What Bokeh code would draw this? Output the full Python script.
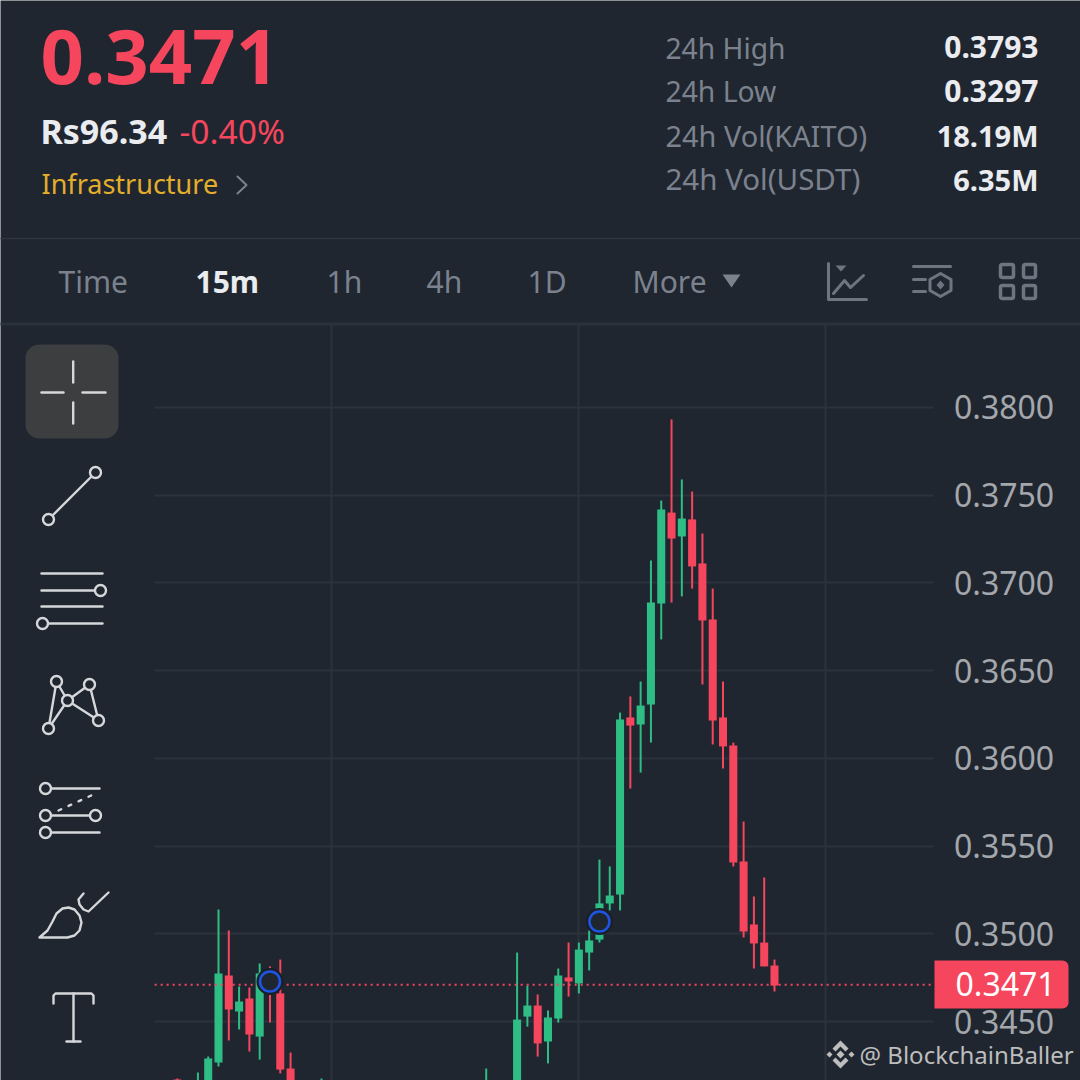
from bokeh.plotting import figure
from bokeh.models import Range1d, LinearAxis, FixedTicker, NumeralTickFormatter, Grid
from bokeh.core.properties import value
from bokeh.embed import file_html
from bokeh.resources import INLINE

# ---------- data ----------
slot  = [-4, -2, -1, 0, 1, 2, 3, 4, 5, 6, 7, 10, 26, 29, 30, 31, 32, 33, 34, 35, 36, 37, 38, 39,
         40, 41, 42, 43, 44, 45, 46, 47, 48, 49, 50, 51, 52, 53, 54]
open_ = [.3417, .3395, .3405, .34266, .34762, .34557, .34631, .34414, .34751, .34660, .34232, .3395, .3395, .3400, .34528, .34591, .34386, .34517, .34751, .34717, .34893, .34967, .35173, .35224,
         .36233, .36193, .36307, .36883, .37401, .37265, .37362, .37111, .36792, .36233, .36073, .35412, .35053, .34950, .34819]
high  = [.34175, .34209, .34300, .35138, .35019, .34699, .34694, .34831, .34814, .34853, .34323, .34175, .34232, .34893, .34705, .34654, .34563, .34802, .34950, .34950, .35019, .35423, .35384, .36261,
         .36353, .36438, .37128, .37470, .37932, .37590, .37521, .37282, .36968, .36438, .36090, .35640, .35213, .35321, .34853]
low   = [.3395, .3385, .3400, .34244, .34392, .34454, .34329, .34283, .34494, .34204, .3395, .3390, .3390, .3395, .34471, .34300, .34261, .34494, .34642, .34660, .34791, .34950, .35133, .35133,
         .35828, .35919, .36090, .36678, .36888, .36923, .36968, .36421, .36079, .35942, .35384, .34979, .34802, .34814, .34671]
close = [.3400, .3415, .34289, .34774, .34568, .34614, .34426, .34774, .34705, .34226, .3400, .3410, .3410, .34511, .34591, .34375, .34523, .34762, .34728, .34910, .34962, .35173, .35218, .36221,
         .36187, .36301, .36888, .37419, .37253, .37367, .37094, .36786, .36216, .36068, .35406, .35013, .34945, .34814, .34705]
price_ticks = [.345, .350, .355, .360, .365, .370, .375, .380]
time_ticks = [11, 35, 59]
last_price = 0.3471
marker_slot = [5, 37]
marker_price = [.34728, .35070]
stats = [("24h High", "0.3793"), ("24h Low", "0.3297"), ("24h Vol(KAITO)", "18.19M"), ("24h Vol(USDT)", "6.35M")]
tabs = ["Time", "15m", "1h", "4h", "1D", "More"]

# ---------- style ----------
BG, RED, GREEN = "#1F2630", "#F6465D", "#2EBD85"
GRID, ICON, GREY = "#2B323B", "#D5D7DA", "#7C828D"
FONT = value("Noto Sans")

p = figure(width=1080, height=1080, x_range=Range1d(-21.173, 83.72), y_range=Range1d(.341637, .403200),
           x_axis_type=None, y_axis_type=None, toolbar_location=None, output_backend="svg",
           min_border=0, background_fill_color=BG, border_fill_color=BG, outline_line_color=None)
p.grid.visible = False
p.extra_x_ranges["px"] = Range1d(0, 1080)
p.extra_y_ranges["px"] = Range1d(1080, 0)
PX = dict(x_range_name="px", y_range_name="px")

# grid + axis
p.add_layout(Grid(dimension=1, ticker=FixedTicker(ticks=price_ticks), grid_line_color=GRID, grid_line_width=2,
                  cross_bounds=(-6.2, 69.4)), "center")
p.add_layout(Grid(dimension=0, ticker=FixedTicker(ticks=time_ticks), grid_line_color=GRID, grid_line_width=2,
                  cross_bounds=(.34164, .38467)), "center")
axis = LinearAxis(ticker=FixedTicker(ticks=price_ticks), formatter=NumeralTickFormatter(format="0.0000"),
                  fixed_location=69.4, axis_line_color=None, major_tick_line_color=None, minor_tick_line_color=None,
                  major_label_text_color="#A4A7AB", major_label_text_font="Noto Sans",
                  major_label_text_font_size="32px", major_label_standoff=15)
p.add_layout(axis, "right")

# candles
colors = [GREEN if c >= o else RED for o, c in zip(open_, close)]
p.segment(slot, high, slot, low, line_color=colors, line_width=2)
p.vbar(x=slot, top=[max(o, c) for o, c in zip(open_, close)], bottom=[min(o, c) for o, c in zip(open_, close)],
       width=0.78, fill_color=colors, line_color=None)
p.segment([-6.2], [last_price], [69.5], [last_price], line_color=RED, line_width=2, line_dash="2 4")
p.scatter(marker_slot, marker_price, size=27, fill_color="#1A1E27", line_color=None)
p.scatter(marker_slot, marker_price, size=20, fill_color=BG, line_color="#1F54E0", line_width=2.6)

# helpers for interface chrome, given in page pixels
K = 0.39  # lift that brings Bokeh's alphabetic text anchor onto the baseline
def T(x, y, s, color, size, bold=False, align="left"):
    p.text([x], [y - K*size], text=[s], text_color=color, text_font=FONT, text_font_size=f"{size}px",
           text_font_style="bold" if bold else "normal", text_align=align, text_baseline="alphabetic", **PX)
def L(xs, ys, color=ICON, w=2.4, dash="solid"):
    p.line(xs, ys, line_color=color, line_width=w, line_dash=dash, line_cap="round", line_join="round", **PX)
def C(x, y, r=5.5):
    p.scatter([x], [y], size=2*r, fill_color=BG, line_color=ICON, line_width=2.4, **PX)

# header
T(40, 86, "0.3471", RED, 76, True)
T(40, 144, "Rs96.34", "#EAECEF", 34, True)
T(179, 144, "-0.40%", RED, 33.6)
T(41, 194, "Infrastructure", "#E3AE2C", 27)
L([237, 246, 237], [176, 184.5, 193], GREY, 2)
for i, ((lab, val), size) in enumerate(zip(stats, [28.2, 28.3, 28.9, 29.5])):
    T(665, 58 + 44*i, lab, GREY, size)
    T(1038, 58 + 44*i, val, "#EAECEF", 29 if val.endswith("M") else 30, True, "right")
L([0, 1080], [238, 238], "#2E353F", 1.5)
L([0, 1080], [323.5, 323.5], "#2A313B", 3)

# tabs
for x, s in zip([58, 195, 326, 426, 527, 632], tabs):
    T(x, 293, s, "#EAECEF" if s == "15m" else GREY, 30, s == "15m")
p.patch([722, 740, 731], [274, 274, 287], fill_color=GREY, line_color=None, **PX)

# top-right icons
IC2 = "#6E7580"
L([828, 828, 866], [263, 299, 299], IC2, 3)
p.patch([835, 846, 840.5], [265, 265, 271], fill_color=IC2, line_color=None, **PX)
L([833, 844, 850, 863], [293, 280, 287, 275], IC2, 3)
L([913, 950], [266, 266], IC2, 3)
L([913, 925], [279, 279], IC2, 3)
L([913, 925], [291, 291], IC2, 3)
L([940, 950.5, 950.5, 940, 929.5, 929.5, 940], [273, 279, 290, 296, 290, 279, 273], IC2, 3)
p.patch([940, 944, 940, 936], [280, 284.5, 289, 284.5], fill_color=IC2, line_color=None, **PX)
for l, r in [(1000, 1013), (1023, 1035)]:
    for t, b in [(264, 277), (285, 298)]:
        p.quad(left=[l], right=[r], top=[t], bottom=[b], fill_color=None, line_color=IC2, line_width=3.5,
               border_radius=2, **PX)

# left toolbar
p.quad(left=[25], right=[118], top=[344], bottom=[438], fill_color="#3D3E40", line_color=None, border_radius=14, **PX)
L([72.7, 72.7], [361, 382]); L([72.7, 72.7], [402, 423]); L([41, 63], [392, 392]); L([82, 105], [392, 392])
L([48, 95], [519, 472]); C(48, 519); C(95, 472)
L([41, 102], [573, 573]); L([41, 100], [590, 590]); L([41, 102], [606, 606]); L([42, 102], [623, 623])
C(100, 590); C(42, 623)
L([56, 48, 67, 56], [681, 728, 700, 681]); L([67, 98, 89, 67], [700, 720, 684, 700])
for cx, cy in [(56, 681), (67, 700), (89, 684), (98, 720), (48, 728)]:
    C(cx, cy)
L([45, 99], [788, 788]); L([45, 95], [815, 815]); L([45, 99], [832, 832])
L([58, 95], [810, 793], ICON, 2.4, "3 8")
C(45, 788); C(45, 815); C(95, 815); C(45, 832)
L([39, 47, 52, 56, 62, 68, 74, 79, 81, 79, 74, 67, 39], [937, 930, 921, 913, 908, 907, 909, 915, 922, 930, 935, 937, 937])
L([83, 78, 79, 83, 88, 108], [893, 899, 904, 909, 911, 892])
L([53, 53, 55, 91, 93, 93], [1003, 995, 993, 993, 995, 1003]); L([73, 73], [993, 1041]); L([66, 80], [1041, 1041])

# last-price tag
p.quad(left=[934], right=[1068], top=[960], bottom=[1008], fill_color=RED, line_color=None,
       border_radius=(0, 6, 6, 0), **PX)
T(955, 996, "0.3471", "#FFFFFF", 32)

# watermark
WM = "#BDBDBD"
p.patch([840, 848, 845, 840, 835, 832], [1040, 1048, 1051, 1046, 1051, 1048], fill_color=WM, line_color=None, **PX)
p.patch([840, 848, 845, 840, 835, 832], [1068, 1060, 1057, 1062, 1057, 1060], fill_color=WM, line_color=None, **PX)
for cx, hw in [(840, 4), (829, 3), (851, 3)]:
    p.patch([cx-hw, cx, cx+hw, cx], [1054, 1054-hw, 1054, 1054+hw], fill_color=WM, line_color=None, **PX)
T(859, 1063, "@ BlockchainBaller", WM, 24)

open("out.html", "w").write(file_html(p, INLINE, title="KAITO/USDT"))
